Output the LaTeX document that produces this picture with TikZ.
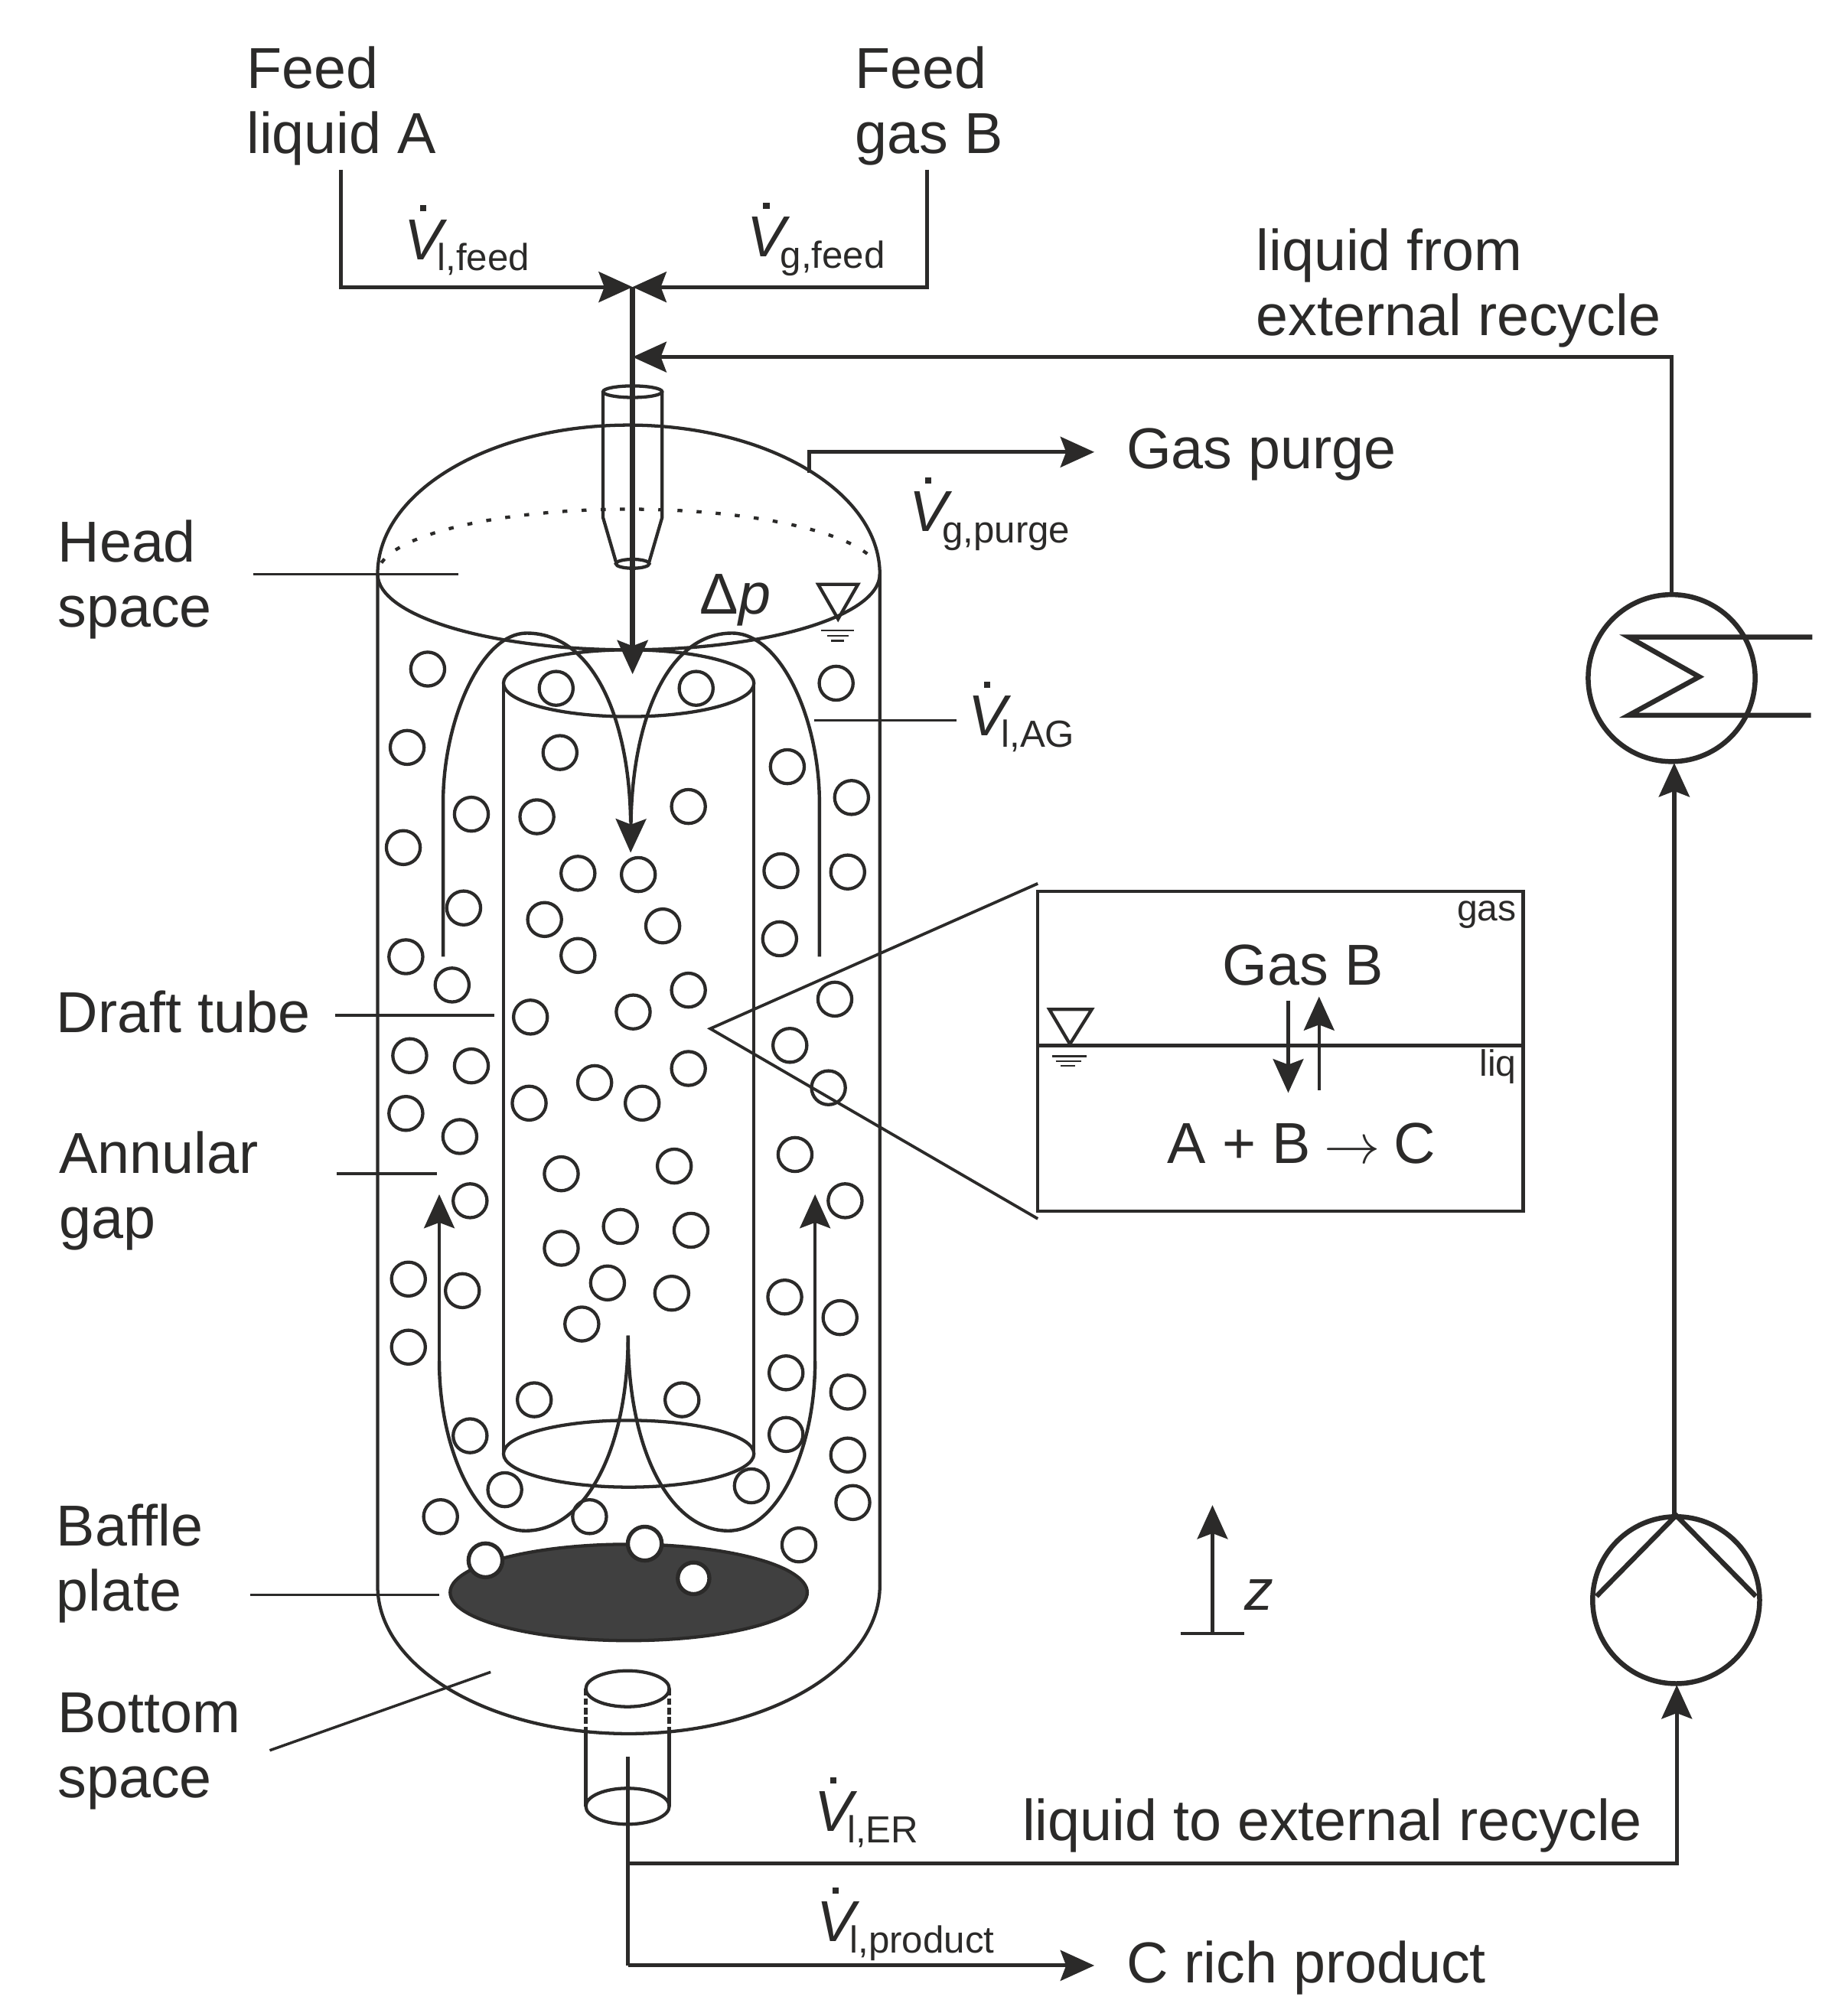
\documentclass[tikz,border=0pt]{standalone}
\usepackage{fontspec}
\setmainfont{Liberation Sans}
\usetikzlibrary{arrows.meta}
\definecolor{ink}{HTML}{2B2A29}
\definecolor{plate}{HTML}{404040}
\newcommand\Vflow[1]{\rlap{\hspace{0.27em}\raisebox{0.83em}{\rule{0.11em}{0.11em}}}\textit{V}\kern-4.5pt\raisebox{-5pt}{\fontsize{16.7}{16.7}\selectfont #1}}
\tikzset{
  big/.style={font=\fontsize{25.6}{28.9}\selectfont,text=ink,inner sep=0pt,outer sep=0pt},
  lab/.style={big,anchor=base west},
  lab2/.style={big,anchor=north west,align=left},
  small/.style={font=\fontsize{16.3}{16.3}\selectfont,text=ink,inner sep=0pt,anchor=base east},
  flow/.style={ink,line width=2.3pt,-{Stealth[length=15pt,width=13.5pt,inset=2.5pt]}},
  pipe/.style={ink,line width=1.7pt},
  thin/.style={ink,line width=1.45pt},
  leader/.style={ink,line width=1.2pt},
  curve/.style={ink,line width=1.5pt},
  curvearrow/.style={curve,-{Stealth[length=15pt,width=13.5pt,inset=2.5pt]}},
  bubble/.style={circle,draw=ink,line width=1.45pt,minimum size=15pt,inner sep=0pt},
  onplate/.style={bubble,fill=white,line width=1.8pt},
  unit/.style={circle,draw=ink,line width=2.2pt,minimum size=74pt,inner sep=0pt,outer sep=0pt},
}
\begin{document}
\begin{tikzpicture}[x=0.02cm,y=-0.02cm]
\useasboundingbox (0,0) rectangle (1438.8,1567.5);
% ---- vessel
\draw[thin] (294,1235) -- (294,447) arc[start angle=180,end angle=360,x radius=195.5,y radius=116] -- (685.0,1235);
\draw[thin] (294,447) arc[start angle=180,end angle=0,x radius=195.5,y radius=59];
\draw[thin,dash pattern=on 2.2pt off 6.3pt] (489.5,447) ++(190:195.5 and 50.5) arc[start angle=190,end angle=350,x radius=195.5,y radius=50.5];
\draw[thin] (294,1235) arc[start angle=180,end angle=0,x radius=195.5,y radius=115];
% ---- draft tube
\draw[thin] (489.5,532) ellipse [x radius=97.5,y radius=26];
\draw[thin] (489.5,1132) ellipse [x radius=97.5,y radius=26];
\draw[thin] (392,532) -- (392,1132) (587,532) -- (587,1132);
% ---- baffle plate
\draw[thin,fill=plate] (489.5,1240) ellipse [x radius=139,y radius=37.5];
% ---- outlet stub
\draw[thin] (488.6,1315) ellipse [x radius=32.5,y radius=14];
\draw[thin] (488.6,1406.5) ellipse [x radius=32.5,y radius=14];
\draw[thin,dash pattern=on 3pt off 1.2pt] (456,1315) -- (456,1346) (521,1315) -- (521,1346);
\draw[thin] (456,1346) -- (456,1406.5) (521,1346) -- (521,1406.5);
% ---- feed nozzle
\draw[thin] (492.5,305) ellipse [x radius=23,y radius=4.5];
\draw[thin] (469.5,305) -- (469.5,403) -- (480,439) (515.5,305) -- (515.5,403) -- (505,439);
\draw[thin] (492.5,439) ellipse [x radius=13,y radius=3.5];
% ---- bubbles
\foreach \bx/\by [count=\bi] in {333/521,433/536,542/536,651/532,317/582,436/586,613/597,663/621,367/634,418/636,536/628,314/660,450/680,497/681,608/678,660/679,361/707,424/716,516/721,607/731,316/745,450/744,352/767,536/771,650/778,413/792,493/788,615/814,319/822,367/830,536/832,463/843,645/847,412/859,500/859,316/867,358/885,437/914,525/908,619/899,366/935,658/935,483/955,538/958,437/972,318/996,473/999,360/1005,523/1007,611/1010,654/1026,453/1031,318/1049,612/1069,416/1090,531/1090,660/1084,612/1117,366/1118,660/1133,393/1160,585/1157,664/1170,343/1181,459/1181,622/1203}
  \node[bubble] (b\bi) at (\bx,\by) {};
\node[onplate] (p1) at (378,1215) {};
\node[onplate] (p2) at (502,1202) {};
\node[onplate,minimum size=14pt] (p3) at (540,1229) {};
% ---- circulation curves
\draw[curve] (345,745) -- (345,625) .. controls (345,560) and (375,493) .. (410,493) .. controls (462,493) and (490,560) .. (491,640);
\draw[curvearrow] (638,745) -- (638,625) .. controls (638,560) and (608,493) .. (570,493) .. controls (520,493) and (492,560) .. (491,664);
\draw[curvearrow] (342,1060) -- (342,930);
\draw[curvearrow] (634.6,1060) -- (634.6,930);
\draw[curve] (342,1060) .. controls (342,1130) and (372,1192) .. (409,1192) .. controls (455,1192) and (489,1130) .. (489,1040);
\draw[curve] (634.6,1060) .. controls (634.6,1130) and (605,1192) .. (567,1192) .. controls (522,1192) and (489,1130) .. (489,1040);
% ---- feed piping
\coordinate (feedA) at (265.5,132);
\coordinate (feedB) at (722,132);
\coordinate (mix) at (492.5,223.5);
\coordinate (inlet) at (492.5,525);
\coordinate (rec) at (492.5,278);
\draw[pipe,-{Stealth[length=15pt,width=13.5pt,inset=2.5pt]}] (feedA) |- (mix);
\draw[pipe,-{Stealth[length=15pt,width=13.5pt,inset=2.5pt]}] (feedB) |- (mix);
\draw[flow] (mix) -- (inlet);
% ---- heat exchanger
\node[unit] (hx) at (1301.5,528) {};
\draw[flow,line width=1.7pt] (hx.north) -- (1301.5,278) -- (rec);
\draw[ink,line width=2.2pt,miter limit=10] (1411,496) -- (1268,496) -- (1323,527) -- (1268,557) -- (1410,557);
% ---- pump
\node[unit] (pump) at (1305,1246) {};
\draw[ink,line width=2.2pt] (1243,1243) -- (1305,1180) -- (1367,1243);
\draw[flow] (1303.5,1180) -- (1303.5,594);
% ---- outlet piping
\coordinate (drain) at (489,1368);
\coordinate (branch) at (489,1451);
\coordinate (prod) at (852,1530.5);
\draw[pipe] (drain) -- (489,1530.5);
\draw[pipe,-{Stealth[length=15pt,width=13.5pt,inset=2.5pt]}] (489,1530.5) -- (prod);
\draw[flow,line width=1.7pt] (branch) -- (1305.5,1451) -- (1305.5,1312);
% ---- purge
\coordinate (purgeA) at (630,368);
\coordinate (purgeB) at (852,352);
\draw[pipe,-{Stealth[length=15pt,width=13.5pt,inset=2.5pt]}] (purgeA) |- (purgeB);
% ---- level symbol, head
\draw[thin] (637,455) -- (668,455) -- (652.5,482) -- cycle;
\draw[leader,line width=0.8pt] (639,491) -- (665,491) (644,495) -- (661,495) (647,499) -- (657,499);
% ---- leaders
\draw[leader] (197,447) -- (357,447);
\draw[leader] (261,790.5) -- (385,790.5);
\draw[leader] (262,914) -- (340,914);
\draw[leader] (195,1242) -- (342,1242);
\draw[leader] (210,1363) -- (382,1302);
\draw[leader] (634,561) -- (745,561);
% ---- inset
\draw[thin,line width=1.5pt] (808,694) rectangle (1186,943);
\draw[thin,line width=1.5pt] (808,814) -- (1186,814);
\draw[leader,line width=1.3pt] (808,688) -- (553,801) -- (808,949);
\draw[thin] (817,786) -- (850,786) -- (833,813) -- cycle;
\draw[leader,line width=0.8pt] (819,822.5) -- (846,822.5) (822,826.5) -- (842,826.5) (826,830) -- (837,830);
\draw[curve,-{Stealth[length=15pt,width=13.5pt,inset=2.5pt]}] (1003,779) -- (1003,851);
\draw[curve,-{Stealth[length=15pt,width=13.5pt,inset=2.5pt]}] (1027,849) -- (1027,776);
% ---- z axis
\draw[leader,line width=1.3pt] (919,1272) -- (969,1272);
\draw[curve,-{Stealth[length=15pt,width=13.5pt,inset=2.5pt]}] (944,1272) -- (944,1172);
% ---- texts
\node[lab2] (tA) at (192,36) {Feed\\liquid A};
\node[lab2] (tB) at (666,36) {Feed\\gas B};
\node[lab2] (tR) at (978,178) {liquid from\\external recycle};
\node[lab2] (tH) at (45,405) {Head\\space};
\node[lab] (tD) at (44,804) {Draft tube};
\node[lab2] (tG) at (46,881) {Annular\\gap};
\node[lab2] (tP) at (44,1171) {Baffle\\plate};
\node[lab2] (tS) at (45,1318) {Bottom\\space};
\node[lab] (tPurge) at (877,365) {Gas purge};
\node[lab] (tProd) at (877,1544) {C rich product};
\node[lab] (tER) at (796,1433) {liquid to external recycle};
\node[lab] (tdp) at (545,478) {Δ\textit{p}};
\node[lab] (tz) at (969,1254) {\textit{z}};
\node[lab] (tGasB) at (952,767) {Gas B};
\node[lab] (tRx) at (909,906) {A + B\kern-1pt\ $\rightarrow$\kern-1pt\ C};
\node[small] (tgas) at (1181,717) {gas};
\node[small] (tliq) at (1181,838) {liq};
\node[lab] (v1) at (315,202) {\Vflow{l,feed}};
\node[lab] (v2) at (582,200) {\Vflow{g,feed}};
\node[lab] (v3) at (708,414) {\Vflow{g,purge}};
\node[lab] (v4) at (754,573) {\Vflow{l,AG}};
\node[lab] (v5) at (634,1426) {\Vflow{l,ER}};
\node[lab] (v6) at (636,1512) {\Vflow{l,product}};
\end{tikzpicture}
\end{document}
